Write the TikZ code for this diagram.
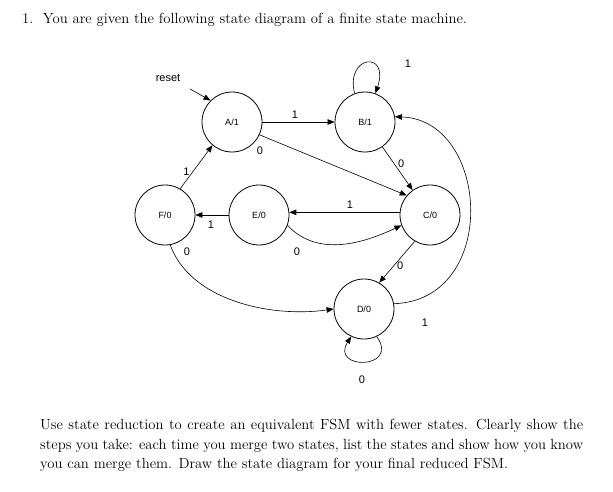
\documentclass[tikz,border=0pt]{standalone}
\usepackage{fontspec}
\setsansfont{Liberation Sans}
\usetikzlibrary{arrows.meta}
\begin{document}
\begin{tikzpicture}[x=1pt,y=-1pt,
  st/.style={circle,draw,thick,minimum size=60pt,inner sep=0pt,font=\sffamily\fontsize{9}{10}\selectfont},
  lb/.style={font=\sffamily\fontsize{11}{12}\selectfont},
  ar/.style={-{Triangle[length=7pt,width=5.5pt]},semithick}]
\useasboundingbox (0,0) rectangle (613,492);
\node[anchor=west,font=\fontsize{14.7}{18}\selectfont,inner sep=0pt] (title) at (22,20) {1.\ \ You are given the following state diagram of a finite state machine.};
\node (A) [st] at (232,122) {A/1};
\node (B) [st] at (365,122) {B/1};
\node (C) [st] at (430,215) {C/0};
\node (E) [st] at (259,215) {E/0};
\node (F) [st] at (165,215) {F/0};
\node (D) [st] at (364,309) {D/0};
\node (reset) [lb] at (168,78) {reset};
\coordinate (rs) at (190,89);
\draw[ar] (rs) -- (A.135);
\draw[ar] (A) -- node[lb,above,pos=0.45]{1} (B);
\draw[ar] (A.-25) -- (C.140);
\node[lb] at (260,151) {0};
\draw[ar] (B) -- node[lb,right,pos=0.4]{0} (C);
\draw[ar] (B.110) .. controls (345,55) and (390,50) .. (B.70);
\node[lb] at (408,64) {1};
\draw[ar] (C.175) -- node[lb,above,pos=0.45]{1} (E.5);
\draw[ar] (E.-20) .. controls (320,260) and (370,240) .. (C.200);
\node[lb] at (297,252) {0};
\draw[ar] (E) -- (F);
\node[lb] at (211,225) {1};
\draw[ar] (F.60) -- node[lb,left,pos=0.4]{1} (A.-130);
\draw[ar] (F.-80) .. controls (190,300) and (270,318) .. (D.180);
\node[lb] at (187,252) {0};
\draw[ar] (C.-120) -- node[lb,right,pos=0.6]{0} (D.60);
\draw[ar] (D.10) .. controls (500,300) and (490,120) .. (B.10);
\node[lb] at (425,323) {1};
\draw[ar] (D.-65) .. controls (400,370) and (330,370) .. (D.-115);
\node[lb] at (362,380) {0};
\node[anchor=north west,text width=543pt,align=justify,font=\fontsize{14.7}{19.5}\selectfont,inner sep=0pt] (txt) at (40,419) {Use state reduction to create an equivalent FSM with fewer states. Clearly show the steps you take: each time you merge two states, list the states and show how you know you can merge them. Draw the state diagram for your final reduced FSM.};
\end{tikzpicture}
\end{document}
